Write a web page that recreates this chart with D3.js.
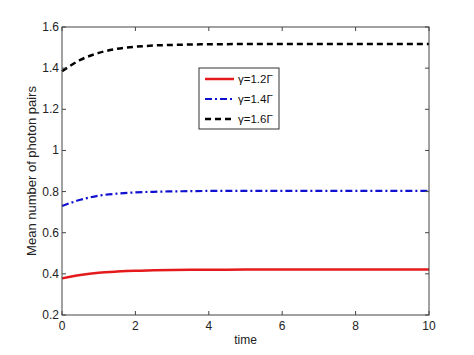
<!DOCTYPE html>
<html><head><meta charset="utf-8">
<script src="https://cdn.jsdelivr.net/npm/d3@7"></script>
<style>body{margin:0;background:#fff}text{font-family:"Liberation Sans",Arial,sans-serif}</style>
</head><body>
<svg id="c" width="474" height="355"></svg>
<script>
const times = [0,0.5,1,1.5,2,2.5,3,3.5,4,5,6,7,8,9,10];
const red   = [0.378,0.394,0.405,0.411,0.415,0.417,0.419,0.420,0.420,0.421,0.421,0.421,0.421,0.421,0.421];
const blue  = [0.730,0.760,0.780,0.790,0.796,0.799,0.801,0.802,0.803,0.803,0.803,0.803,0.803,0.803,0.803];
const black = [1.385,1.440,1.474,1.494,1.504,1.510,1.513,1.515,1.516,1.517,1.517,1.517,1.517,1.517,1.517];
const xTicks = [0,2,4,6,8,10];
const yTicks = [0.2,0.4,0.6,0.8,1,1.2,1.4,1.6];
const seriesNames = ["γ=1.2Γ","γ=1.4Γ","γ=1.6Γ"];

const svg = d3.select("#c");
const L=62,R=429,T=27,B=315;
const x = d3.scaleLinear().domain([0,10]).range([L,R]);
const y = d3.scaleLinear().domain([0.2,1.6]).range([B,T]);
const axCol="#444";
const series=[
 {v:red,color:"#e41a1c",dash:null,w:2.5},
 {v:blue,color:"#1010d0",dash:"7,3,2,3",w:2.2},
 {v:black,color:"#000",dash:"6,4",w:2.5}
];
const line = d3.line().x((d,i)=>x(times[i])).y(d=>y(d)).curve(d3.curveMonotoneX);
series.forEach(s=>{
  svg.append("path").attr("d",line(s.v)).attr("fill","none").attr("stroke",s.color)
   .attr("stroke-width",s.w).attr("stroke-dasharray",s.dash);
});
svg.append("rect").attr("x",L).attr("y",T).attr("width",R-L).attr("height",B-T)
 .attr("fill","none").attr("stroke",axCol).attr("stroke-width",1);
const tl=4;
xTicks.forEach(t=>{
  svg.append("line").attr("x1",x(t)).attr("x2",x(t)).attr("y1",B).attr("y2",B-tl).attr("stroke",axCol);
  svg.append("line").attr("x1",x(t)).attr("x2",x(t)).attr("y1",T).attr("y2",T+tl).attr("stroke",axCol);
  svg.append("text").attr("x",x(t)).attr("y",B+15).attr("text-anchor","middle")
   .attr("font-size",12).attr("fill","#222").text(t);
});
yTicks.forEach(t=>{
  svg.append("line").attr("x1",L).attr("x2",L+tl).attr("y1",y(t)).attr("y2",y(t)).attr("stroke",axCol);
  svg.append("line").attr("x1",R).attr("x2",R-tl).attr("y1",y(t)).attr("y2",y(t)).attr("stroke",axCol);
  svg.append("text").attr("x",L-3).attr("y",y(t)+4).attr("text-anchor","end")
   .attr("font-size",12).attr("fill","#222").text(t);
});
svg.append("text").attr("x",(L+R)/2).attr("y",B+29).attr("text-anchor","middle")
 .attr("font-size",12).attr("fill","#222").text("time");
svg.append("text").attr("transform",`translate(36,${(T+B)/2}) rotate(-90)`).attr("text-anchor","middle")
 .attr("font-size",13).attr("fill","#222").text("Mean number of photon pairs");
const lg=svg.append("g");
lg.append("rect").attr("x",199).attr("y",68).attr("width",80).attr("height",61)
 .attr("fill","#fff").attr("stroke","#333").attr("stroke-width",1);
series.forEach((s,i)=>{
  const yy=79+i*20;
  lg.append("line").attr("x1",205).attr("x2",234).attr("y1",yy).attr("y2",yy)
   .attr("stroke",s.color).attr("stroke-width",s.w).attr("stroke-dasharray",s.dash);
  lg.append("text").attr("x",238).attr("y",yy+4).attr("font-size",11.5).attr("fill","#111").text(seriesNames[i]);
});
</script>
</body></html>
